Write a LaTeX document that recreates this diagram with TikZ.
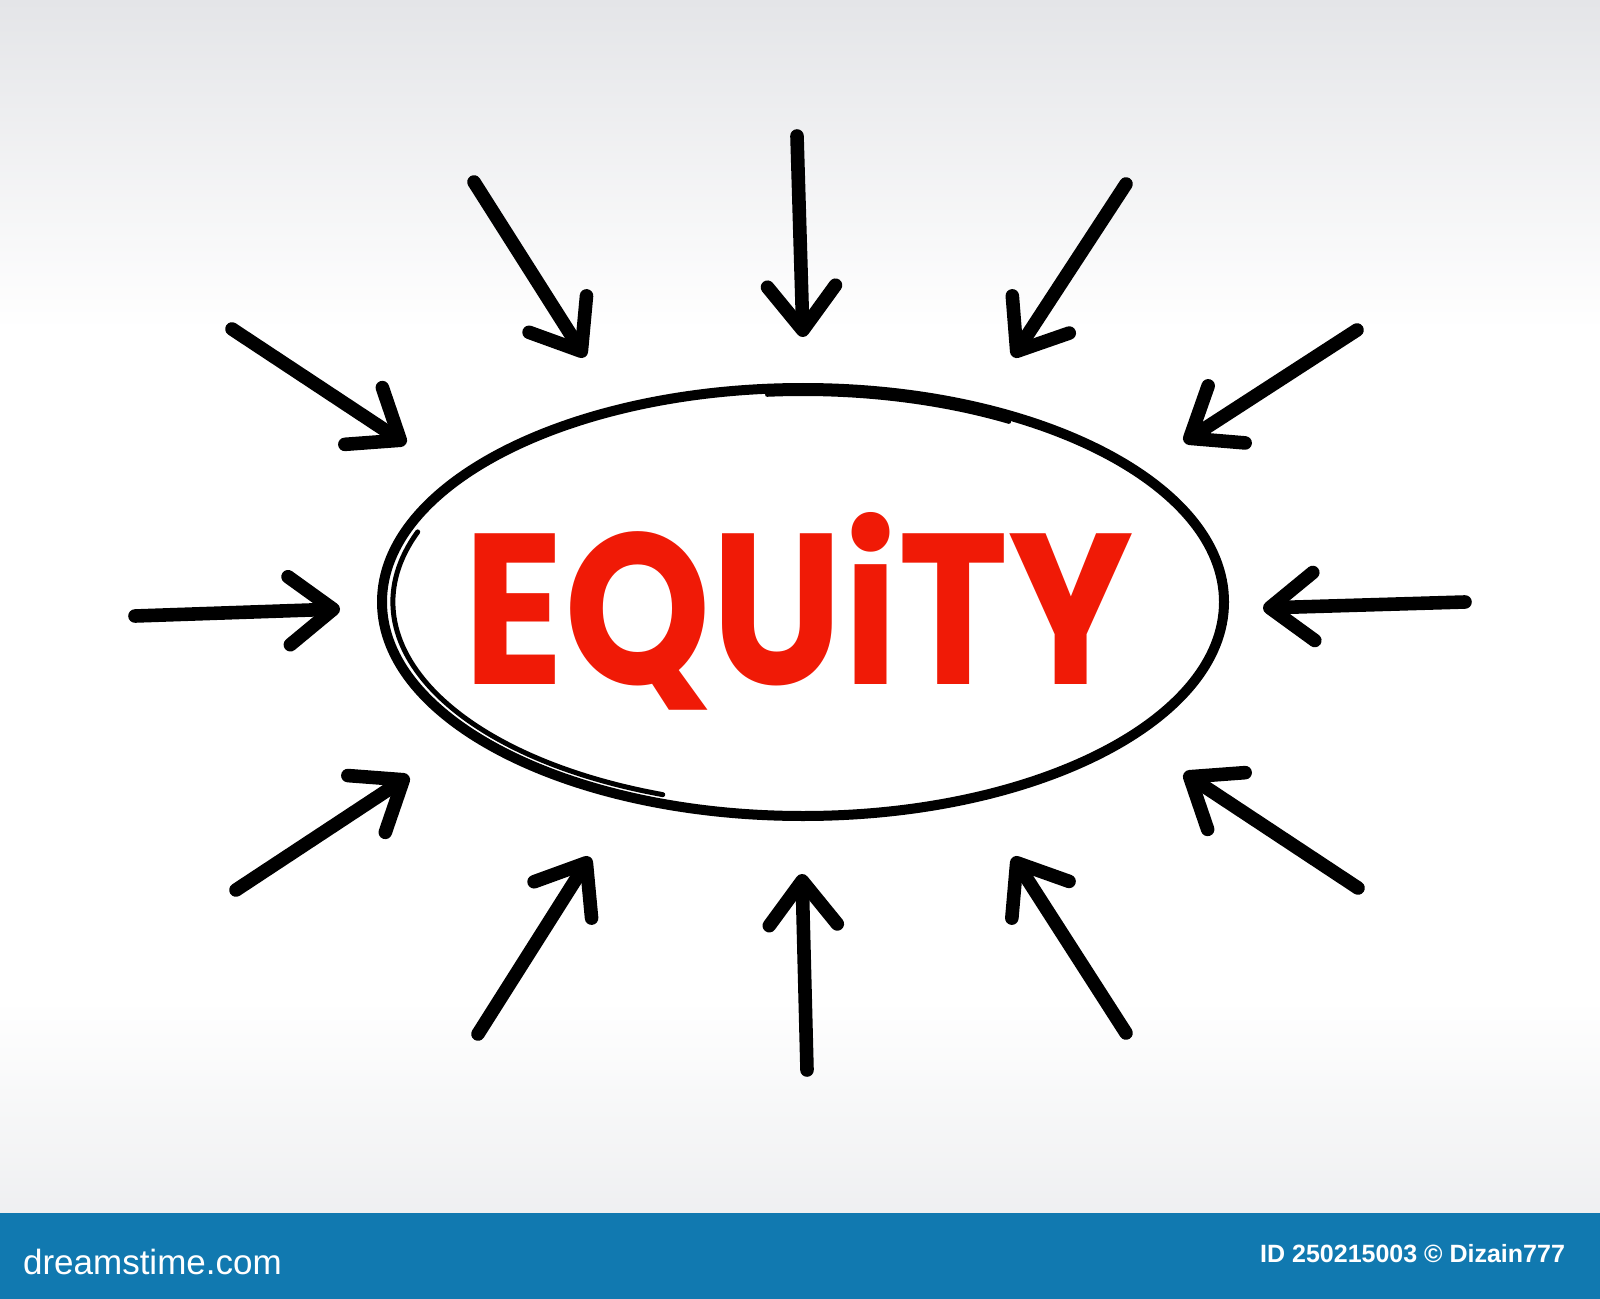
\documentclass[tikz,border=0pt]{standalone}
\usepackage{fontspec}
\usetikzlibrary{arrows.meta,shapes.geometric}
\newfontfamily\eqfont{Poppins}
\newfontfamily\banfont{Liberation Sans}
\definecolor{eqred}{RGB}{240,26,6}
\definecolor{banblue}{RGB}{17,121,176}
\definecolor{bggray}{RGB}{228,229,232}
\tikzset{
  inarrow/.style={line width=6.8pt, line cap=round, line join=round,
    -{Straight Barb[round, length=22pt, width=34pt]}},
  ringline/.style={line width=5pt},
}
\begin{document}
\begin{tikzpicture}[x=0.5pt,y=-0.5pt]
\useasboundingbox (0,0) rectangle (1600,1299);
% background
\fill[white] (0,0) rectangle (1600,1213);
\shade[top color=bggray, bottom color=white] (0,0) rectangle (1600,330);
\shade[top color=white, bottom color=bggray!60] (0,1000) rectangle (1600,1213);
\fill[banblue] (0,1213) rectangle (1600,1299);
\node[text=white, anchor=west, font=\banfont\fontsize{17.5pt}{17.5pt}\selectfont] (logo) at (16,1262) {dreamstime.com};
\node[text=white, anchor=east, font=\banfont\bfseries\fontsize{12.5pt}{12.5pt}\selectfont] (credit) at (1572,1254) {ID 250215003 \textcopyright{} Dizain777};
% central ellipse
\node[ellipse, draw, ringline, minimum width=421pt, minimum height=214pt, inner sep=0pt] (ring) at (803,602) {};
\draw[line width=2.5pt, line cap=round] (ring.center) ++(110:410 and 205) arc [start angle=110, end angle=200, x radius=410, y radius=205];
\draw[line width=2pt, line cap=round] (ring.center) ++(-95:412 and 208) arc [start angle=-95, end angle=-60, x radius=412, y radius=208];
% title
\node[text=eqred, inner sep=0pt] (title) at (799,611)
  {\resizebox{335pt}{86pt}{\eqfont\bfseries EQUiTY}};
% arrow ends
\coordinate (t1) at (797,136);  \coordinate (h1) at (803,337);
\coordinate (t2) at (474,182);  \coordinate (h2) at (585,357);
\coordinate (t3) at (1126,184); \coordinate (h3) at (1013,357);
\coordinate (t4) at (232,329);  \coordinate (h4) at (406,444);
\coordinate (t5) at (1357,330); \coordinate (h5) at (1184,442);
\coordinate (t6) at (135,616);  \coordinate (h6) at (340,609);
\coordinate (t7) at (1465,602); \coordinate (h7) at (1263,608);
\coordinate (t8) at (236,890);  \coordinate (h8) at (409,776);
\coordinate (t9) at (1358,888); \coordinate (h9) at (1184,773);
\coordinate (t10) at (478,1034); \coordinate (h10) at (590,857);
\coordinate (t11) at (807,1070); \coordinate (h11) at (802,874);
\coordinate (t12) at (1126,1033); \coordinate (h12) at (1013,857);
\foreach \i in {1,...,12} { \draw[inarrow] (t\i) -- (h\i); }
\end{tikzpicture}
\end{document}
